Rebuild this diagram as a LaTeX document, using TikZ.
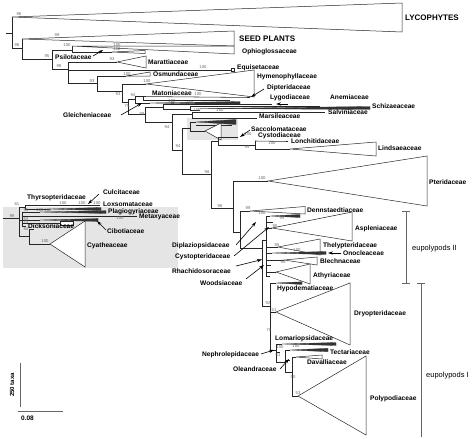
\documentclass[tikz,border=0pt]{standalone}
\usepackage{fontspec}
\setmainfont{Liberation Sans}
\usetikzlibrary{arrows.meta}
\begin{document}
\begin{tikzpicture}[x=1pt,y=-1pt,
  br/.style={line width=0.55pt, draw=black!85},
  tri/.style={line width=0.5pt, draw=black!85, fill=white},
  wedge/.style={fill=black!80, draw=black!80, line width=0.3pt},
  lab/.style={font=\fontsize{6.6}{7}\selectfont\bfseries, anchor=west, inner sep=0pt},
  big/.style={font=\fontsize{8}{9}\selectfont\bfseries, anchor=west, inner sep=0pt},
  grp/.style={font=\fontsize{7.5}{8}\selectfont, anchor=west, inner sep=0pt},
  bs/.style={font=\fontsize{4.2}{4.5}\selectfont, text=black!60, inner sep=0pt},
  arr/.style={-{Stealth[length=5pt,width=3.2pt]}, line width=0.6pt},
  brk/.style={line width=0.6pt, draw=black!60},
]
\useasboundingbox (0,0) rectangle (474,439);
% gray boxes
\fill[black!10] (3,207) rectangle (178,268);
\fill[black!10] (187,118) rectangle (238,140);

% ---------- backbone top ----------
\draw[br] (6,33)--(12,33);
\draw[br] (12,17)--(12,48)--(22,48);
\draw[tri] (12,17)--(402,3)--(402,32)--cycle;
\draw[br] (22,39)--(22,59);
\draw[tri] (22,39)--(234,31)--(234,46)--cycle;
\draw[br] (22,59)--(52,59);
\draw[br] (52,50)--(52,69);
\draw[br] (52,50)--(72,50);
\draw[br] (72,46)--(72,52);
\draw[tri] (72,46)--(234,46)--(234,54)--cycle;
\draw[br] (72,52)--(112,52);
\draw[tri] (112,52)--(145,50.5)--(145,53.5)--cycle;
\draw[br] (52,69)--(68,69);
\draw[br] (68,62)--(68,83);
\draw[br] (68,62)--(117,62);
\draw[tri] (117,62)--(146,56)--(146,68)--cycle;
\draw[br] (68,70)--(231,70);
\draw[br, fill=white] (231,68.3) rectangle (234.5,71.7);
\draw[br] (68,83)--(97,83);
\draw[br] (97,76)--(97,91);
\draw[br] (97,76)--(126,76);
\draw[tri] (126,76)--(150,72)--(150,76)--cycle;
\draw[br] (97,91)--(122,91);
\draw[br] (122,84)--(122,102);
\draw[br] (122,84)--(146,84);
\draw[tri] (146,84)--(254,70)--(254,97)--cycle;
\draw[br] (122,102)--(128,102);
\draw[br] (128,99)--(128,114);
% Gleicheniales
\draw[br] (128,99)--(135,99);
\draw[br] (135,96.5)--(135,103);
\draw[br] (135,96.5)--(143,96.5);
\draw[br] (143,96.5)--(143,100);
\draw[br] (143,96.5)--(250,97.5);
\draw[br] (143,100)--(230,100);
\draw[br] (135,103)--(150,103);
\draw[wedge] (150,103)--(240,101.5)--(240,104.5)--cycle;
% Schizaeales
\draw[br] (128,114)--(145,114);
\draw[br] (145,107)--(145,122);
\draw[br] (145,107)--(163,107);
\draw[br] (163,104)--(163,109);
\draw[br] (163,104)--(272,104);
\draw[br] (163,109)--(190,109);
\draw[br] (190,106)--(190,110);
\draw[br] (190,106)--(320,106);
\draw[br] (190,110)--(200,110);
\draw[wedge] (200,108.5)--(370,106.5)--(370,109.5)--cycle;
% Salviniales
\draw[br] (145,122)--(172,122);
\draw[br] (172,114)--(172,150);
\draw[br] (172,114)--(192,114);
\draw[br] (192,112)--(192,118);
\draw[br] (192,112)--(325,112);
\draw[br] (192,118)--(257,118);
% Cyatheales (compressed)
\draw[br] (172,150)--(182,150);
\draw[br] (182,128)--(182,174);
\draw[br] (182,128)--(190,128);
\draw[br] (190,122)--(190,131);
\draw[br] (190,122)--(196,122);
\draw[wedge] (196,122)--(236,119.5)--(236,124.5)--cycle;
\draw[br] (196,125.5)--(232,125.5);
\draw[br] (190,131)--(205,131);
\draw[tri] (205,131)--(221,123)--(221,140)--cycle;
% Polypodiales
\draw[br] (182,174)--(211,174);
\draw[br] (211,141)--(211,208);
\draw[br] (211,141)--(218,141);
\draw[br] (218,137)--(218,145);
\draw[br] (218,137)--(238,137);
\draw[br] (218,145)--(255,145);
\draw[br] (255,141)--(255,149);
\draw[br] (255,141)--(288,141.5);
\draw[br] (255,149)--(290,149);
\draw[tri] (290,149)--(376,142)--(376,156)--cycle;
\draw[br] (211,208)--(233,208);
\draw[br] (233,181)--(233,232);
\draw[br] (233,181)--(268,181);
\draw[tri] (268,181)--(427,156)--(427,206)--cycle;
\draw[br] (233,232)--(240,232);
\draw[br] (240,211)--(240,248);
\draw[br] (240,211)--(250,211);
\draw[tri] (250,211)--(305,206.5)--(305,214)--cycle;
\draw[br] (240,248)--(262,248);
\draw[br] (262,240)--(262,306);
% eupolypods II
\draw[br] (262,240)--(266,240);
\draw[br] (266,216)--(266,276);
\draw[br] (266,216)--(270,216);
\draw[wedge] (270,216)--(300,214.5)--(300,217.5)--cycle;
\draw[br] (266,222)--(273,222);
\draw[br] (266,228)--(272,228);
\draw[tri] (272,228)--(352,212)--(352,241)--cycle;
\draw[br] (266,247)--(278,247);
\draw[tri] (278,247)--(320,239)--(320,255)--cycle;
\draw[br] (266,253)--(272,253);
\draw[wedge] (272,253)--(326,251.5)--(326,254.5)--cycle;
\draw[br] (266,260)--(284,260);
\draw[tri] (284,260)--(317,257)--(317,265)--cycle;
\draw[br] (266,265)--(271,265);
\draw[br] (266,272)--(276,272);
\draw[tri] (276,272)--(310,264)--(310,284)--cycle;
\draw[br] (266,276)--(270,276);
% eupolypods I
\draw[br] (262,306)--(270,306);
\draw[br] (270,283)--(270,350);
\draw[br] (270,283)--(276,283);
\draw[wedge] (276,283)--(302,281.8)--(302,284.5)--cycle;
\draw[br] (270,312)--(276,312);
\draw[tri] (276,312)--(350,283)--(350,345)--cycle;
\draw[br] (270,350)--(276,350);
\draw[br] (276,344)--(276,362);
\draw[br] (276,344)--(282,344);
\draw[wedge] (282,344)--(336,342.5)--(336,345.5)--cycle;
\draw[br] (276,352)--(280,352);
\draw[br] (276,362)--(285,362);
\draw[br] (285,350)--(285,372);
\draw[br] (285,350)--(290,350);
\draw[wedge] (290,350)--(328,348.3)--(328,351.7)--cycle;
\draw[br] (285,360)--(290,360);
\draw[br] (285,372)--(292,372);
\draw[br] (292,357)--(292,396);
\draw[br] (292,357)--(296,357);
\draw[tri] (296,357)--(322,355)--(322,359)--cycle;
\draw[br] (292,396)--(298,396);
\draw[tri] (298,396)--(366,356)--(366,435)--cycle;

% ---------- inset Cyatheales ----------
\draw[br] (3,218)--(19,218);
\draw[br] (19,207)--(19,236);
\draw[br] (19,207)--(25,207);
\draw[br] (22,212)--(22,226);
\draw[br] (19,220)--(22,220);
\draw[br] (25,205)--(25,209);
\draw[br] (25,205)--(100,205);
\draw[br] (25,209)--(50,209);
\draw[wedge] (50,209)--(101,207.5)--(101,210.5)--cycle;
\draw[br] (22,212)--(40,212);
\draw[wedge] (40,212)--(106,210.7)--(106,213.5)--cycle;
\draw[br] (22,216)--(137,216);
\draw[br] (22,220)--(40,220);
\draw[wedge] (40,220)--(98,218.6)--(98,221.4)--cycle;
\draw[br] (22,223)--(60,223);
\draw[br, fill=white] (60,221) rectangle (73,225);
\draw[br] (22,226)--(26,226);
\draw[br] (19,236)--(29,236);
\draw[br] (29,229)--(29,244);
\draw[br] (29,229)--(34,229);
\draw[br] (29,244)--(50,244);
\draw[tri] (50,244)--(85,221)--(85,267)--cycle;

% ---------- bootstrap values ----------
\foreach \x/\y/\t [count=\i] in {19/14/98, 17/45/98, 57/35/99, 47/56/95, 67/45/100, 117/45/100, 117/49/100,
  59/66/99, 112/59/93, 203/67/100, 127/74/100, 92/81/93, 147/81/100, 118/94/93, 133/95/94, 198/94.5/100,
  127/106/75, 172/101.5/100, 190/103.5/100, 142/114/99, 197/110/100, 220/110/100, 167/127/94, 178/146/94,
  248/134/100, 247/147/99, 272/143.5/100, 207/172/98, 262/178/100, 220/206/96, 248/208/99, 262/213/100,
  282/218.5/99, 275/226/95, 277/245/95, 297/250/100, 283/262.5/99, 268/303/92, 274/310/51, 269/330/76,
  280/347.5/100, 278/355/51, 296/346.5/100, 293/377/50, 298/393/53, 17/204/61, 12/216/99, 63/203/100,
  82/203/100, 97/203/100, 40/210.5/100, 48/210.5/100, 120/218.5/100, 45/241/100, 26/210.5/95, 26/219/63,
  26/222.5/73, 26/229/94}
  \node[bs] (bs\i) at (\x,\y) {\t};

% ---------- labels ----------
\node[big] (lyc) at (405,18) {LYCOPHYTES};
\node[big] (seed) at (239,38.5) {SEED PLANTS};
\node[lab] (oph) at (242,52) {Ophioglossaceae};
\node[lab] (psi) at (55,57) {Psilotaceae};
\node[lab] (mar) at (148,62) {Marattiaceae};
\node[lab] (equ) at (237,68) {Equisetaceae};
\node[lab] (osm) at (153,74.5) {Osmundaceae};
\node[lab] (hym) at (257,77) {Hymenophyllaceae};
\node[lab] (dip) at (267,88) {Dipteridaceae};
\node[lab] (mat) at (152,93.5) {Matoniaceae};
\node[lab] (lyg) at (270,97.5) {Lygodiaceae};
\node[lab] (ane) at (330,97.5) {Anemiaceae};
\node[lab] (sch) at (372,106) {Schizaeaceae};
\node[lab] (sal) at (328,112) {Salviniaceae};
\node[lab] (mars) at (259,116.5) {Marsileaceae};
\node[lab] (gle) at (63,115.5) {Gleicheniaceae};
\node[lab] (sac) at (251,129) {Saccolomataceae};
\node[lab] (cys) at (258,136) {Cystodiaceae};
\node[lab] (lon) at (291,141.5) {Lonchitidaceae};
\node[lab] (lin) at (378,148.5) {Lindsaeaceae};
\node[lab] (pte) at (429,182) {Pteridaceae};
\node[lab] (den) at (307,210) {Dennstaedtiaceae};
\node[lab] (asp) at (355,228.5) {Aspleniaceae};
\node[lab] (the) at (323,246) {Thelypteridaceae};
\node[lab] (ono) at (343,253) {Onocleaceae};
\node[lab] (ble) at (320,261) {Blechnaceae};
\node[lab] (ath) at (313,276) {Athyriaceae};
\node[lab] (hyp) at (277,289) {Hypodematiaceae};
\node[lab] (dry) at (354,313.5) {Dryopteridaceae};
\node[lab] (lom) at (275,339) {Lomariopsidaceae};
\node[lab] (tec) at (330,352) {Tectariaceae};
\node[lab] (dav) at (307,362.5) {Davalliaceae};
\node[lab] (pol) at (370,399) {Polypodiaceae};
\node[lab] (nep) at (202,355) {Nephrolepidaceae};
\node[lab] (ole) at (233,369.5) {Oleandraceae};
\node[lab] (dpz) at (172,246) {Diplaziopsidaceae};
\node[lab] (cyt) at (175,257) {Cystopteridaceae};
\node[lab] (rha) at (172,271) {Rhachidosoraceae};
\node[lab] (woo) at (200,283) {Woodsiaceae};
\node[lab] (cul) at (103,192) {Culcitaceae};
\node[lab] (thy) at (27,197.5) {Thyrsopteridaceae};
\node[lab] (lox) at (103,204) {Loxsomataceae};
\node[lab] (pla) at (108,211.5) {Plagiogyriaceae};
\node[lab] (met) at (139,217) {Metaxyaceae};
\node[lab] (dic) at (28,226.5) {Dicksoniaceae};
\node[lab] (cib) at (107,231) {Cibotiaceae};
\node[lab] (cya) at (87,246) {Cyatheaceae};

% ---------- arrows ----------
\coordinate (psiS) at (93,56);   \coordinate (psiT) at (103,50);
\coordinate (gleS) at (121,115); \coordinate (gleT) at (142,103);
\coordinate (dipS) at (264,89);  \coordinate (dipT) at (251,97);
\coordinate (lygS) at (288,104); \coordinate (lygT) at (276,104);
\coordinate (sacS) at (250,130); \coordinate (sacT) at (240,137);
\coordinate (onoS) at (341,253); \coordinate (onoT) at (328,253);
\coordinate (dpzS) at (236,245); \coordinate (dpzT) at (256,222);
\coordinate (cytS) at (234,256); \coordinate (cytT) at (269,227);
\coordinate (rhaS) at (236,266); \coordinate (rhaT) at (262,259.5);
\coordinate (wooS) at (246,279); \coordinate (wooT) at (264,265);
\coordinate (nepS) at (261,354); \coordinate (nepT) at (274,350);
\coordinate (oleS) at (280,369); \coordinate (oleT) at (289,359);
\coordinate (culS) at (99,194);  \coordinate (culT) at (88,204);
\coordinate (cibS) at (106,230); \coordinate (cibT) at (97,221);
\foreach \a in {psi,gle,dip,lyg,sac,ono,dpz,cyt,rha,woo,nep,ole,cul,cib}
  \draw[arr] (\a S)--(\a T);

% ---------- brackets ----------
\draw[brk] (406,211)--(406,283);
\draw[brk] (402,211)--(410,211);
\draw[brk] (402,283)--(410,283);
\draw[brk] (421,283)--(421,437);
\draw[brk] (417,283)--(425,283);
\node[grp] (ep2) at (412,249) {eupolypods II};
\node[grp] (ep1) at (426,376) {eupolypods I};

% ---------- scale bars ----------
\draw[brk] (20,363)--(20,407);
\draw[brk] (18,411)--(63,411);
\node[font=\fontsize{6}{6}\selectfont\bfseries, rotate=90, inner sep=0pt] (taxa) at (12,385) {250 taxa};
\node[font=\fontsize{6.5}{7}\selectfont\bfseries, anchor=west, inner sep=0pt] (sc) at (21,418.5) {0.08};
\end{tikzpicture}
\end{document}
